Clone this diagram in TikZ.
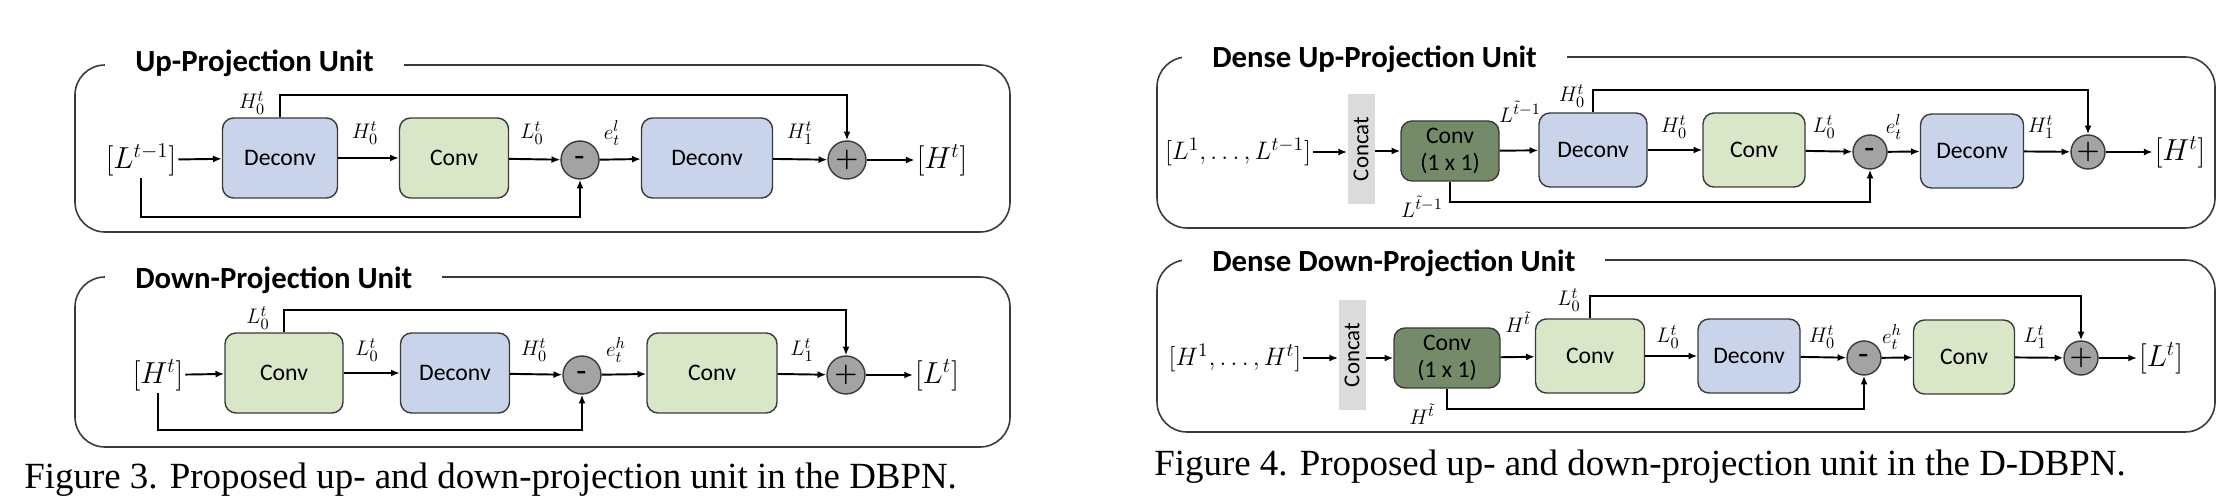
\documentclass[tikz,border=0pt]{standalone}
\usepackage{fontspec}
\usepackage{amsmath}
\usetikzlibrary{arrows.meta}
\newfontfamily\carl{Carlito}
\newfontfamily\capf{Liberation Serif}
\definecolor{dblue}{HTML}{C9D3EA}
\definecolor{dgreen}{HTML}{D9E6C8}
\definecolor{dkgreen}{HTML}{758A69}
\definecolor{cgray}{HTML}{A3A3A3}
\definecolor{bord}{HTML}{3A3A3A}
\begin{document}
\begin{tikzpicture}[x=0.02cm,y=-0.02cm,
  frame/.style={draw=bord,line width=0.9pt,rounded corners=0.6cm},
  title/.style={fill=white,inner xsep=0.6cm,inner ysep=2pt,font=\carl\bfseries\fontsize{17.5}{20}\selectfont},
  blk/.style 2 args={draw=bord,line width=0.8pt,rounded corners=0.22cm,font=\carl\fontsize{13.5}{15}\selectfont,
     minimum width={#1*0.02cm},minimum height={#2*0.02cm},inner sep=0pt,align=center},
  deconv/.style 2 args={blk={#1}{#2},fill=dblue},
  conv/.style 2 args={blk={#1}{#2},fill=dgreen},
  conv1/.style 2 args={blk={#1}{#2},fill=dkgreen},
  op/.style={circle,draw=bord,line width=0.8pt,fill=cgray,minimum size=0.76cm,inner sep=0pt,font=\bfseries\fontsize{15}{15}\selectfont},
  concat/.style={fill=black!14,rotate=90,minimum width={110*0.02cm},minimum height={27*0.02cm},inner sep=0pt,font=\carl\fontsize{13}{15}\selectfont},
  io/.style={font=\fontsize{17}{20}\selectfont,inner sep=1pt},
  io4/.style={font=\fontsize{15}{18}\selectfont,inner sep=1pt},
  lab/.style={font=\fontsize{13}{15}\selectfont,inner sep=0pt},
  ar/.style={line width=1.1pt,-{Latex[length=5pt,width=4pt]}},
  captxt/.style={font=\capf\fontsize{21}{24}\selectfont,anchor=west,inner sep=0pt}]
\useasboundingbox (0,0) rectangle (2220,502);
%%%%%%%% Figure 3 up
\draw[frame] (75,65) rectangle (1010,232);
\node[title,anchor=west] (t3u) at (105,63) {Up-Projection Unit};
\node[io] (a1) at (141,160) {$[L^{t-1}]$};
\node[deconv={115}{80}] (d1) at (280,158) {Deconv};
\node[conv={109}{80}] (c1) at (454,158) {Conv};
\node[op] (m1) at (580,160) {-};
\node[deconv={131}{80}] (d2) at (707,158) {Deconv};
\node[op] (p1) at (847,160) {+};
\node[io] (o1) at (942,160) {$[H^{t}]$};
\draw[ar] (a1) -- (d1);
\draw[ar] (d1) -- (c1);
\draw[ar] (c1) -- (m1);
\draw[ar] (m1) -- (d2);
\draw[ar] (d2) -- (p1);
\draw[ar] (p1) -- (o1);
\coordinate (t1) at (847,95);
\draw[ar] (d1.north) |- (t1) -- (p1.north);
\coordinate (b1) at (141,217);
\draw[ar] (a1.south) -- (a1.south |- b1) -| (m1.south);
\node[lab] (l11) at (252,103) {$H_0^t$};
\node[lab] (l12) at (365,133) {$H_0^t$};
\node[lab] (l13) at (532,133) {$L_0^t$};
\node[lab] (l14) at (612,133) {$e_t^l$};
\node[lab] (l15) at (800,133) {$H_1^t$};
%%%%%%%% Figure 3 down
\draw[frame] (75,277) rectangle (1010,447);
\node[title,anchor=west] (t3d) at (105,280) {Down-Projection Unit};
\node[io] (a2) at (158,375) {$[H^{t}]$};
\node[conv={118}{80}] (c2) at (284,373) {Conv};
\node[deconv={109}{80}] (d3) at (455,373) {Deconv};
\node[op] (m2) at (582,375) {-};
\node[conv={130}{80}] (c3) at (712,373) {Conv};
\node[op] (p2) at (846,375) {+};
\node[io] (o2) at (937,375) {$[L^{t}]$};
\draw[ar] (a2) -- (c2);
\draw[ar] (c2) -- (d3);
\draw[ar] (d3) -- (m2);
\draw[ar] (m2) -- (c3);
\draw[ar] (c3) -- (p2);
\draw[ar] (p2) -- (o2);
\coordinate (t2) at (846,310);
\draw[ar] (c2.north) |- (t2) -- (p2.north);
\coordinate (b2) at (156,430);
\draw[ar] (a2.south) -- (a2.south |- b2) -| (m2.south);
\node[lab] (l21) at (258,318) {$L_0^t$};
\node[lab] (l22) at (367,350) {$L_0^t$};
\node[lab] (l23) at (534,350) {$H_0^t$};
\node[lab] (l24) at (616,350) {$e_t^h$};
\node[lab] (l25) at (802,350) {$L_1^t$};
\node[captxt] (cap3) at (24,480) {Figure 3. Proposed up- and down-projection unit in the DBPN.};
%%%%%%%% Figure 4 up
\draw[frame] (1157,57) rectangle (2215,228);
\node[title,anchor=west] (t4u) at (1182,59) {Dense Up-Projection Unit};
\node[io4] (a3) at (1238,152) {$[L^{1},\ldots,L^{t-1}]$};
\node[concat] (k1) at (1361,149) {Concat};
\node[conv1={98}{60}] (q1) at (1450,151) {Conv\\(1 x 1)};
\node[deconv={108}{74}] (d4) at (1593,150) {Deconv};
\node[conv={102}{74}] (c4) at (1754,150) {Conv};
\node[op,minimum size=0.68cm] (m3) at (1870,152) {-};
\node[deconv={103}{74}] (d5) at (1972,151) {Deconv};
\node[op,minimum size=0.68cm] (p3) at (2088,152) {+};
\node[io] (o3) at (2180,152) {$[H^{t}]$};
\draw[ar] (a3) -- (k1.north |- a3);
\draw[ar] (k1.south |- q1) -- (q1);
\draw[ar] (q1) -- (d4);
\draw[ar] (d4) -- (c4);
\draw[ar] (c4) -- (m3);
\draw[ar] (m3) -- (d5);
\draw[ar] (d5) -- (p3);
\draw[ar] (p3) -- (o3);
\coordinate (t3) at (2088,90);
\draw[ar] (d4.north) |- (t3) -- (p3.north);
\coordinate (b3) at (1450,202);
\draw[ar] (q1.south) |- (b3) -| (m3.south);
\node[lab] (l31) at (1572,96) {$H_0^t$};
\node[lab] (l32) at (1520,112) {$L^{\tilde{t}-1}$};
\node[lab] (l33) at (1674,127) {$H_0^t$};
\node[lab] (l34) at (1824,127) {$L_0^t$};
\node[lab] (l35) at (1894,127) {$e_t^l$};
\node[lab] (l36) at (2041,127) {$H_1^t$};
\node[lab] (l37) at (1422,207) {$L^{\tilde{t}-1}$};
%%%%%%%% Figure 4 down
\draw[frame] (1157,260) rectangle (2215,432);
\node[title,anchor=west] (t4d) at (1182,263) {Dense Down-Projection Unit};
\node[io4] (a4) at (1235,358) {$[H^{1},\ldots,H^{t}]$};
\node[concat] (k2) at (1352,355) {Concat};
\node[conv1={106}{60}] (q2) at (1447,358) {Conv\\(1 x 1)};
\node[conv={109}{74}] (c5) at (1590,356) {Conv};
\node[deconv={102}{74}] (d6) at (1749,356) {Deconv};
\node[op,minimum size=0.68cm] (m4) at (1864,358) {-};
\node[conv={101}{74}] (c6) at (1964,357) {Conv};
\node[op,minimum size=0.68cm] (p4) at (2081,358) {+};
\node[io] (o4) at (2161,358) {$[L^{t}]$};
\draw[ar] (a4) -- (k2.north |- a4);
\draw[ar] (k2.south |- q2) -- (q2);
\draw[ar] (q2) -- (c5);
\draw[ar] (c5) -- (d6);
\draw[ar] (d6) -- (m4);
\draw[ar] (m4) -- (c6);
\draw[ar] (c6) -- (p4);
\draw[ar] (p4) -- (o4);
\coordinate (t4) at (2081,296);
\draw[ar] (c5.north) |- (t4) -- (p4.north);
\coordinate (b4) at (1448,409);
\draw[ar] (q2.south) |- (b4) -| (m4.south);
\node[lab] (l41) at (1569,300) {$L_0^t$};
\node[lab] (l42) at (1518,322) {$H^{\tilde{t}}$};
\node[lab] (l43) at (1668,337) {$L_0^t$};
\node[lab] (l44) at (1822,337) {$H_0^t$};
\node[lab] (l45) at (1892,337) {$e_t^h$};
\node[lab] (l46) at (2035,337) {$L_1^t$};
\node[lab] (l47) at (1422,414) {$H^{\tilde{t}}$};
\node[captxt] (cap4) at (1154,467) {Figure 4. Proposed up- and down-projection unit in the D-DBPN.};
\end{tikzpicture}
\end{document}
